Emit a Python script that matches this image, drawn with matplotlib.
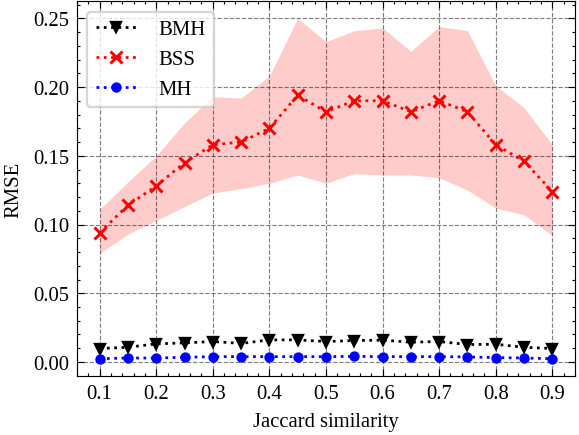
import numpy as np
import matplotlib
matplotlib.use("Agg")
import matplotlib.pyplot as plt
from matplotlib.ticker import AutoMinorLocator

# values
jaccard = [0.1, 0.15, 0.2, 0.25, 0.3, 0.35, 0.4, 0.45, 0.5,
           0.55, 0.6, 0.65, 0.7, 0.75, 0.8, 0.85, 0.9]
bmh = [0.0098, 0.0107, 0.0132, 0.0139, 0.0149, 0.0135, 0.0161, 0.0161, 0.0149,
       0.0156, 0.0159, 0.0144, 0.0149, 0.0127, 0.0129, 0.0107, 0.0098]
bss = [0.094, 0.114, 0.128, 0.145, 0.158, 0.160, 0.170, 0.194, 0.182,
       0.190, 0.190, 0.182, 0.190, 0.182, 0.158, 0.146, 0.124]
bss_upper = [0.111, 0.131, 0.150, 0.174, 0.193, 0.192, 0.208, 0.250, 0.233,
             0.241, 0.243, 0.226, 0.244, 0.241, 0.201, 0.185, 0.158]
bss_lower = [0.079, 0.093, 0.103, 0.113, 0.123, 0.126, 0.130, 0.136, 0.130,
             0.137, 0.136, 0.136, 0.134, 0.125, 0.112, 0.107, 0.092]
mh = [0.0024, 0.0029, 0.0029, 0.0034, 0.0039, 0.0039, 0.0039, 0.0039, 0.0039,
      0.0041, 0.0039, 0.0039, 0.0039, 0.0037, 0.0032, 0.0029, 0.0024]

plt.rcParams['font.family'] = ['Liberation Serif', 'DejaVu Serif']
plt.rcParams['font.size'] = 9
plt.rcParams['axes.linewidth'] = 0.5
plt.rcParams['xtick.direction'] = 'in'
plt.rcParams['ytick.direction'] = 'in'
plt.rcParams['xtick.top'] = True
plt.rcParams['ytick.right'] = True
plt.rcParams['xtick.major.size'] = 3
plt.rcParams['ytick.major.size'] = 3
plt.rcParams['xtick.minor.size'] = 1.5
plt.rcParams['ytick.minor.size'] = 1.5
plt.rcParams['xtick.major.width'] = 0.5
plt.rcParams['ytick.major.width'] = 0.5
plt.rcParams['xtick.minor.width'] = 0.5
plt.rcParams['ytick.minor.width'] = 0.5
plt.rcParams['xtick.minor.visible'] = True
plt.rcParams['ytick.minor.visible'] = True

fig, ax = plt.subplots(figsize=(3.5, 2.635), dpi=165.43)
fig.subplots_adjust(left=0.133, right=0.993, bottom=0.136, top=0.995)

ax.plot(jaccard, bmh, ':', color='black', marker='v', ms=4, lw=1.2, label='BMH')
ax.plot(jaccard, bss, ':', color='red', marker='x', ms=4.8, mew=1.3, lw=1.2, label='BSS')
ax.fill_between(jaccard, bss_lower, bss_upper, color='red', alpha=0.2, lw=0)
ax.plot(jaccard, mh, ':', color='blue', marker='o', ms=3.5, lw=1.2, label='MH')

ax.grid(True, color='black', linestyle='--', linewidth=0.5, alpha=0.5)
ax.xaxis.set_minor_locator(AutoMinorLocator())
ax.yaxis.set_minor_locator(AutoMinorLocator())
ax.set_xticks([0.1, 0.2, 0.3, 0.4, 0.5, 0.6, 0.7, 0.8, 0.9])
ax.set_xlabel('Jaccard similarity')
ax.set_ylabel('RMSE')
leg = ax.legend(loc='upper left', handletextpad=1.05)
leg.get_frame().set_linewidth(1.0)
leg.get_frame().set_edgecolor('0.8')

fig.savefig('out.png', dpi=165.43)
